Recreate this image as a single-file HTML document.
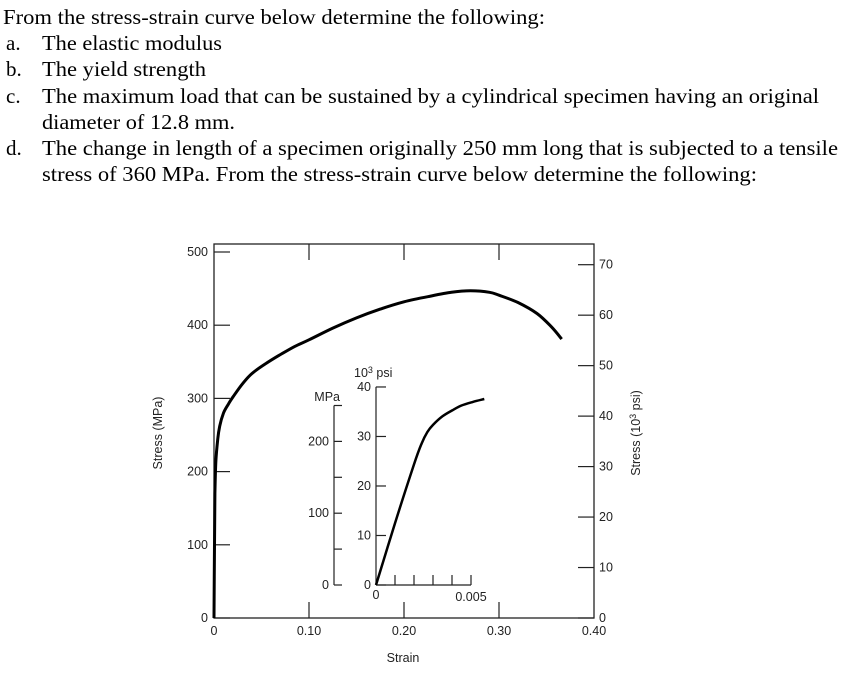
<!DOCTYPE html>
<html><head><meta charset="utf-8">
<style>
html,body{margin:0;padding:0;background:#fff;}
svg{display:block;}
.hd{font-family:"Liberation Serif",serif;font-size:21px;fill:#000;}
.tk{font-family:"Liberation Sans",sans-serif;font-size:12.5px;fill:#222;}
</style></head>
<body>
<svg id="chart" width="850" height="680" viewBox="0 0 850 680">
<g>
<text class="hd" x="3" y="24" textLength="542" lengthAdjust="spacingAndGlyphs">From the stress-strain curve below determine the following:</text>
<text class="hd" x="6" y="50">a.</text>
<text class="hd" x="42" y="50" textLength="180" lengthAdjust="spacingAndGlyphs">The elastic modulus</text>
<text class="hd" x="6" y="76">b.</text>
<text class="hd" x="42" y="76" textLength="164" lengthAdjust="spacingAndGlyphs">The yield strength</text>
<text class="hd" x="6" y="103">c.</text>
<text class="hd" x="42" y="103" textLength="777" lengthAdjust="spacingAndGlyphs">The maximum load that can be sustained by a cylindrical specimen having an original</text>
<text class="hd" x="42" y="129" textLength="193" lengthAdjust="spacingAndGlyphs">diameter of 12.8 mm.</text>
<text class="hd" x="6" y="155">d.</text>
<text class="hd" x="42" y="155" textLength="796" lengthAdjust="spacingAndGlyphs">The change in length of a specimen originally 250 mm long that is subjected to a tensile</text>
<text class="hd" x="42" y="181" textLength="715" lengthAdjust="spacingAndGlyphs">stress of 360 MPa. From the stress-strain curve below determine the following:</text>
</g>
<g id="plot"></g>
</svg>
<script>
const mainStrain=[0,0.0005,0.001,0.002,0.004,0.006,0.01,0.015,0.02,0.03,0.04,0.055,0.07,0.085,0.10,0.125,0.15,0.175,0.20,0.225,0.25,0.27,0.29,0.30,0.32,0.34,0.355,0.366];
const mainStress=[0,100,170,215,245,262,280,292,302,320,334,348,360,371,380,396,410,422,432,439,445,447,445,441,431,416,398,381];
const insetStrain=[0,0.001,0.002,0.0024,0.0027,0.003,0.0035,0.004,0.0045,0.0051,0.0057];
const insetStress=[0,86,168,197,213,223,235,243,250,255,259];
const mpaTicks=[0,100,200,300,400,500];
const psiTicks=[0,10,20,30,40,50,60,70];
const strainTicks=[0,0.10,0.20,0.30,0.40];
const strainLabels=["0","0.10","0.20","0.30","0.40"];
const insetPsiTicks=[0,10,20,30,40];
const insetMpaTicks=[0,50,100,150,200,250];
const insetMpaLabels=["0","","100","","200",""];
const insetStrainTicks=[0,0.001,0.002,0.003,0.004,0.005];

const NS="http://www.w3.org/2000/svg";
const g=document.getElementById('plot');
const L=214,R=594,T=244,B=618;
const X=s=>L+s/0.40*(R-L);
const Y=m=>B-m*0.732;
const PSI=k=>Y(k*6.895);
const IX0=376,IY0=585;
const IX=s=>IX0+s/0.005*95;
const IY=m=>IY0-m*0.718;
function el(tag,attrs,parent){const e=document.createElementNS(NS,tag);for(const k in attrs)e.setAttribute(k,attrs[k]);(parent||g).appendChild(e);return e;}
function line(x1,y1,x2,y2,w){return el('line',{x1,y1,x2,y2,stroke:'#222','stroke-width':w||1.2});}
function txt(x,y,s,anchor,cls){const t=el('text',{x,y,'text-anchor':anchor||'middle',class:cls||'tk'});t.textContent=s;return t;}
function smooth(pts){
  let d='M'+pts[0][0].toFixed(1)+','+pts[0][1].toFixed(1);
  for(let i=0;i<pts.length-1;i++){
    const p0=pts[Math.max(0,i-1)],p1=pts[i],p2=pts[i+1],p3=pts[Math.min(pts.length-1,i+2)];
    const c1=[p1[0]+(p2[0]-p0[0])/6,p1[1]+(p2[1]-p0[1])/6];
    const c2=[p2[0]-(p3[0]-p1[0])/6,p2[1]-(p3[1]-p1[1])/6];
    d+='C'+c1[0].toFixed(1)+','+c1[1].toFixed(1)+' '+c2[0].toFixed(1)+','+c2[1].toFixed(1)+' '+p2[0].toFixed(1)+','+p2[1].toFixed(1);
  }
  return d;
}

const frame=el('rect',{x:L,y:T,width:R-L,height:B-T,fill:'none',stroke:'#222','stroke-width':1.3});



mpaTicks.forEach(m=>{
  const tl=line(L,Y(m),L+16,Y(m));
  
  
  const t=txt(L-6,Y(m)+4,String(m),'end');
  
  
});
psiTicks.forEach(k=>{
  const tl=line(R-16,PSI(k),R,PSI(k));
  
  
  const t=txt(R+5,PSI(k)+4,String(k),'start');
  
  
});
strainTicks.forEach((s,i)=>{
  if(i>0&&i<strainTicks.length-1){
    const a=line(X(s),B,X(s),B-16);
    
    
    const b=line(X(s),T,X(s),T+16);
    
    
  }
  const t=txt(X(s),B+17,strainLabels[i]);
  
  
});
const xl=txt(403,662,'Strain');


const yl=txt(0,0,'Stress (MPa)');
yl.setAttribute('transform','translate(162,433) rotate(-90)');


const yr=el('text',{class:'tk','text-anchor':'middle',transform:'translate(640,433) rotate(-90)'});
yr.innerHTML='Stress (10<tspan dy="-4" font-size="9">3</tspan><tspan dy="4"> psi)</tspan>';



const mp=el('path',{d:smooth(mainStrain.map((s,i)=>[X(s),Y(mainStress[i])])),fill:'none',stroke:'#000','stroke-width':3,'stroke-linejoin':'round'});



// inset
const ia=line(IX0,IY(276),IX0,IY0);


const ib=line(IX0,IY0,IX(0.005),IY0);


const ic=line(334,IY(250),334,IY0);


insetPsiTicks.forEach(k=>{
  const y=IY(k*6.895);
  const tl=line(IX0,y,IX0+10,y);
  
  
  const t=txt(IX0-5,y+4,String(k),'end');
  
  
});
insetMpaTicks.forEach((m,i)=>{
  const tl=line(334,IY(m),342,IY(m));
  
  
  if(insetMpaLabels[i]){
    const t=txt(329,IY(m)+4,insetMpaLabels[i],'end');
    
    
  }
});
insetStrainTicks.forEach((s,i)=>{
  if(i>0){
    const tl=line(IX(s),IY0,IX(s),IY0-10);
    
    
  }
});
const l0=txt(IX0,IY0+14,'0');


const l5=txt(IX(0.005),IY0+16,'0.005');


const mu=txt(340,401,'MPa','end');


const pu=el('text',{x:354,y:377,class:'tk'});
pu.innerHTML='10<tspan dy="-4" font-size="9">3</tspan><tspan dy="4"> psi</tspan>';


const ip=el('path',{d:smooth(insetStrain.map((s,i)=>[IX(s),IY(insetStress[i])])),fill:'none',stroke:'#000','stroke-width':2.5,'stroke-linejoin':'round'});


</script>
</body></html>
